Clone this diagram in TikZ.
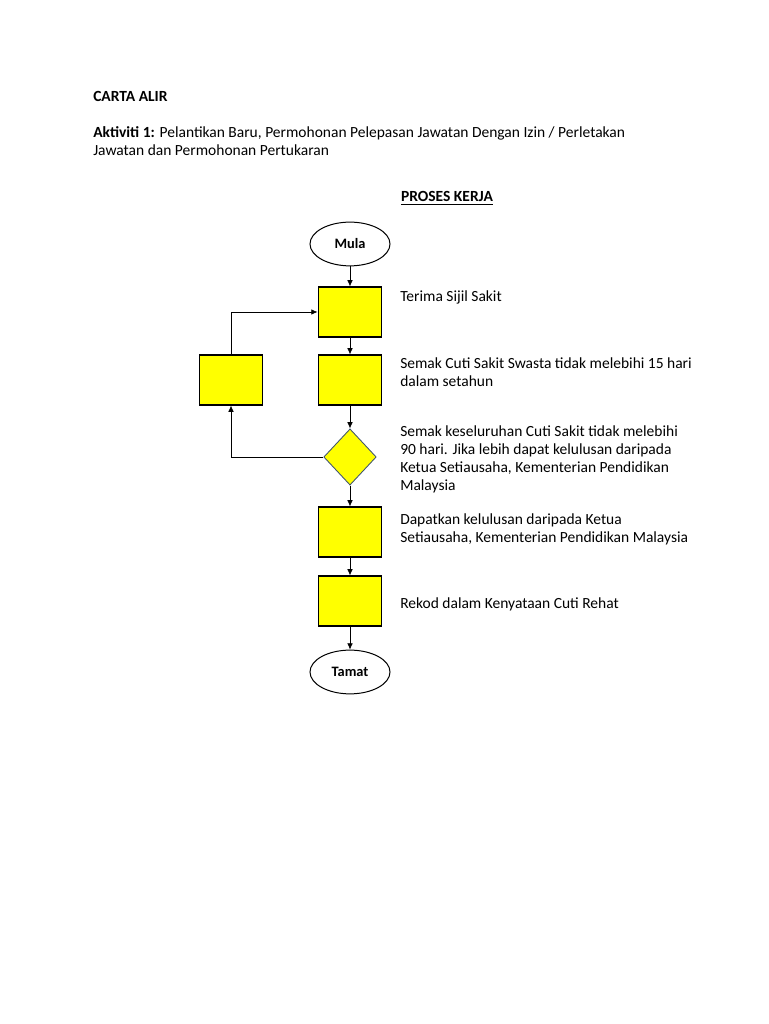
\documentclass[tikz,border=0pt]{standalone}
\usepackage{fontspec}
\setmainfont{Carlito}
\usepackage{tikz}
\usetikzlibrary{arrows.meta,shapes.geometric,positioning}
\definecolor{boxyellow}{RGB}{255,255,0}
\definecolor{diamondline}{RGB}{65,85,110}
\tikzset{%
	startstop/.style = {draw, ellipse, thick, minimum width=64pt, minimum height=35pt, inner sep=0pt, font=\fontsize{11.5pt}{13pt}\selectfont\bfseries},
	process/.style   = {draw, rectangle, fill=boxyellow, line width=0.9pt, minimum width=51pt, minimum height=40pt, inner sep=0pt},
	decision/.style  = {draw=diamondline, diamond, fill=boxyellow, line width=0.7pt, minimum width=42pt, minimum height=45pt, inner sep=0pt},
	note/.style      = {anchor=base west, align=left, inner sep=0pt},
	arrow/.style     = {line width=0.6pt, -{Latex[length=5pt,width=4.5pt]}},
}

\begin{document}
\begin{tikzpicture}[x=0.8pt,y=0.8pt,font=\fontsize{12.4pt}{14.4pt}\selectfont]
	\useasboundingbox (0,0) rectangle (768,1024);
	% header
	\node [note] (title) at (93,922) {\textbf{CARTA ALIR}};
	\node [note] (activity) at (93,868) {\textbf{Aktiviti 1:} Pelantikan Baru, Permohonan Pelepasan Jawatan Dengan Izin / Perletakan\\Jawatan dan Permohonan Pertukaran};
	\node [anchor=base, inner sep=0pt] (heading) at (447,822) {\underline{\textbf{PROSES KERJA}}};
	
	% flow
	\node [startstop] (mula) at (350,780) {Mula};
	\node [process] (terima) [below of=mula,node distance=54.4pt] {};
	\node [process] (semak) [below of=terima,node distance=54.4pt] {};
	\node [process] (balik) [left of=semak,node distance=95.2pt] {};
	\node [decision] (hari) [below of=semak,node distance=61.6pt] {};
	\node [process] (lulus) [below of=hari,node distance=60pt] {};
	\node [process] (rekod) [below of=lulus,node distance=55.2pt] {};
	\node [startstop] (tamat) [below of=rekod,node distance=56.8pt] {Tamat};
	
	\draw[arrow] (mula) -- (terima);
	\draw[arrow] (terima) -- (semak);
	\draw[arrow] (semak) -- (hari);
	\draw[arrow] (hari) -- (lulus);
	\draw[arrow] (lulus) -- (rekod);
	\draw[arrow] (rekod) -- (tamat);
	\draw[arrow] (hari) -| (balik);
	\draw[arrow] (balik) |- (terima);
	
	% notes (base = last line)
	\node [note] (t1) at (400,722) {Terima Sijil Sakit};
	\node [note] (t2) at (400,637) {Semak Cuti Sakit Swasta tidak melebihi 15 hari\\dalam setahun};
	\node [note] (t3) at (400,533) {Semak keseluruhan Cuti Sakit tidak melebihi\\90 hari. Jika lebih dapat kelulusan daripada\\Ketua Setiausaha, Kementerian Pendidikan\\Malaysia};
	\node [note] (t4) at (400,481) {Dapatkan kelulusan daripada Ketua\\Setiausaha, Kementerian Pendidikan Malaysia};
	\node [note] (t5) at (400,415) {Rekod dalam Kenyataan Cuti Rehat};
\end{tikzpicture}
\end{document}
